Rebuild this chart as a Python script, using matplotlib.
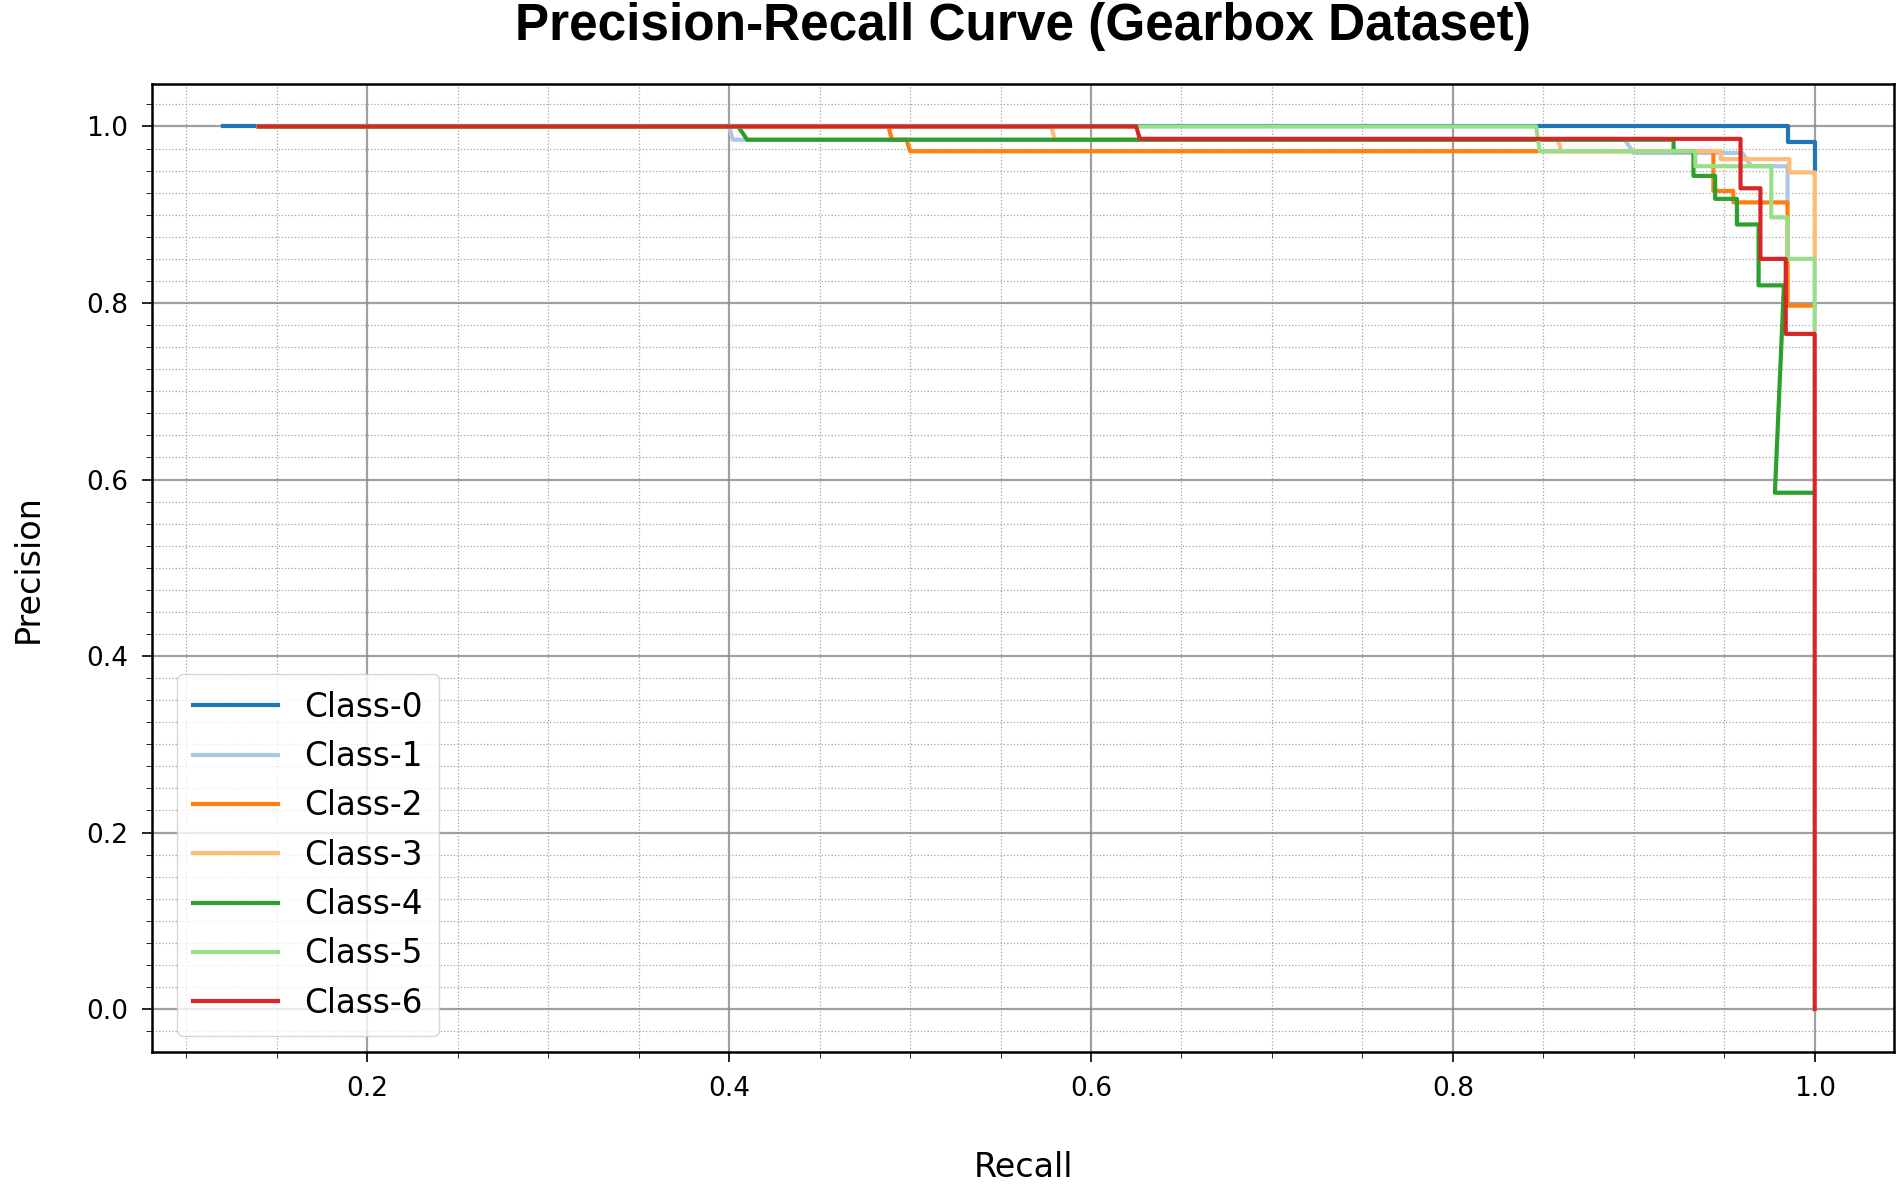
import matplotlib.pyplot as plt
from matplotlib.ticker import MultipleLocator

# recall / precision points
r0 = [0.12, 0.985, 0.985, 1.0, 1.0]
p0 = [1.0, 1.0, 0.982, 0.982, 0.952]
r1 = [0.14, 0.40, 0.402, 0.895, 0.90, 0.96, 0.965, 0.985, 0.985]
p1 = [1.0, 1.0, 0.985, 0.985, 0.97, 0.97, 0.955, 0.955, 0.915]
r2 = [0.14, 0.488, 0.49, 0.498, 0.50, 0.944, 0.944, 0.955, 0.955, 0.985, 0.985, 1.0]
p2 = [1.0, 1.0, 0.985, 0.985, 0.972, 0.972, 0.927, 0.927, 0.914, 0.914, 0.797, 0.797]
r3 = [0.14, 0.578, 0.58, 0.858, 0.86, 0.948, 0.948, 0.986, 0.986, 1.0, 1.0]
p3 = [1.0, 1.0, 0.985, 0.985, 0.972, 0.972, 0.963, 0.963, 0.948, 0.948, 0.85]
r4 = [0.14, 0.405, 0.41, 0.922, 0.922, 0.933, 0.933, 0.945, 0.945, 0.957, 0.957, 0.969, 0.969, 0.983, 0.978, 0.998]
p4 = [1.0, 1.0, 0.985, 0.985, 0.972, 0.972, 0.944, 0.944, 0.918, 0.918, 0.889, 0.889, 0.82, 0.82, 0.585, 0.585]
r5 = [0.14, 0.846, 0.848, 0.934, 0.934, 0.976, 0.976, 0.985, 0.985, 1.0, 1.0]
p5 = [1.0, 1.0, 0.972, 0.972, 0.955, 0.955, 0.897, 0.897, 0.85, 0.85, 0.77]
r6 = [0.14, 0.625, 0.627, 0.959, 0.959, 0.970, 0.970, 0.984, 0.984, 1.0, 1.0]
p6 = [1.0, 1.0, 0.986, 0.986, 0.93, 0.93, 0.85, 0.85, 0.765, 0.765, 0.0]

recalls = [r0, r1, r2, r3, r4, r5, r6]
precisions = [p0, p1, p2, p3, p4, p5, p6]
labels = ['Class-0', 'Class-1', 'Class-2', 'Class-3', 'Class-4', 'Class-5', 'Class-6']
colors = ['#1f77b4', '#aec7e8', '#ff7f0e', '#ffbb78', '#2ca02c', '#98df8a', '#d62728']

fig = plt.figure(figsize=(19, 11.85), dpi=100)
ax = fig.add_axes([0.08, 0.112, 0.917, 0.817])

for r, p, lab, c in zip(recalls, precisions, labels, colors):
    ax.plot(r, p, color=c, lw=3, label=lab)

ax.set_xlim(0.081, 1.044)
ax.set_ylim(-0.049, 1.048)
ax.xaxis.set_major_locator(MultipleLocator(0.2))
ax.xaxis.set_minor_locator(MultipleLocator(0.05))
ax.yaxis.set_major_locator(MultipleLocator(0.2))
ax.yaxis.set_minor_locator(MultipleLocator(0.025))
ax.grid(which='major', color='#888888', lw=1.6, alpha=0.8)
ax.grid(which='minor', color='#999999', lw=0.9, ls=':', alpha=0.9)
ax.tick_params(which='major', labelsize=19, length=7, width=1.2, pad=10)
ax.tick_params(which='minor', length=4)
for s in ax.spines.values():
    s.set_linewidth(1.8)

ax.set_xlabel('Recall', fontsize=24, labelpad=35)
ax.set_ylabel('Precision', fontsize=24, labelpad=30)
fig.suptitle('Precision-Recall Curve (Gearbox Dataset)', fontsize=37, fontweight='bold',
             family=['Liberation Sans', 'DejaVu Sans'], x=0.5385, y=0.998)

ax.legend(loc='lower left', fontsize=23.5, handlelength=2.6, borderpad=0.5,
          labelspacing=0.5, bbox_to_anchor=(0.005, 0.0))

fig.savefig('out.png', dpi=100)
